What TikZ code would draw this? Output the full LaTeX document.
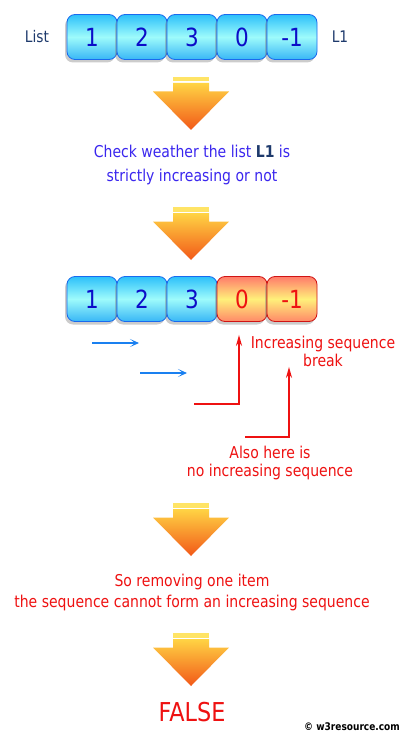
\documentclass[tikz,border=0pt]{standalone}
\usepackage{fontspec}
\setmainfont{DejaVu Sans}[FakeStretch=0.86]
\usetikzlibrary{arrows.meta,positioning,shadows}
\definecolor{celltop}{HTML}{2CC0FA}
\definecolor{cellmid}{HTML}{9EFBFB}
\definecolor{cellbot}{HTML}{38B6F6}
\definecolor{celledge}{HTML}{1A6AEE}
\definecolor{celltext}{HTML}{0C0CC8}
\definecolor{badtop}{HTML}{FF7B6B}
\definecolor{badmid}{HTML}{FFF07A}
\definecolor{badbot}{HTML}{FF8868}
\definecolor{badedge}{HTML}{D01414}
\definecolor{notered}{HTML}{EE1111}
\definecolor{navy}{HTML}{1E3A6C}
\definecolor{askblue}{HTML}{3A26EE}
\definecolor{walkblue}{HTML}{1A80F0}
\definecolor{arrtop}{HTML}{FFD444}
\definecolor{arrbot}{HTML}{F25818}
\definecolor{barfill}{HTML}{FFE466}
\tikzset{
	cell/.style={draw=celledge,line width=.8pt,rounded corners=8pt,minimum width=50pt,minimum height=45pt,
		top color=celltop,bottom color=cellbot,middle color=cellmid,text=celltext,
		font=\fontsize{25}{25}\selectfont,drop shadow={shadow xshift=-2pt,shadow yshift=-3pt,opacity=.4}},
	badcell/.style={cell,draw=badedge,top color=badtop,bottom color=badbot,middle color=badmid,text=notered},
	tag/.style={text=navy,font=\fontsize{16}{16}\selectfont},
	note/.style={align=center,text=notered,font=\fontsize{16.3}{18}\selectfont},
	walk/.style={draw=walkblue,line width=2pt,-{Stealth[length=9pt,width=8pt,inset=5pt]}},
	miss/.style={draw=notered,line width=2pt,-{Stealth[length=11pt,width=6pt]}},
	bigdown/.pic={
		\fill[barfill] (-18,0) rectangle (18,4.5);
		\shade[top color=arrtop,bottom color=arrbot] (-18,6) -- (18,6) -- (18,14.5) -- (38,14.5) -- (0,53) -- (-38,14.5) -- (-18,14.5) -- cycle;
	}
}
\begin{document}
\begin{tikzpicture}[x=1pt,y=-1pt]
	\useasboundingbox (0,0) rectangle (409,741);
	% the list
	\node[tag] (lbl) at (37,37) {List};
	\foreach \v [count=\i] in {1,2,3,0,-1}
		\node[cell] (a\i) at (42+50*\i,37) {\v};
	\node[tag] (nm) at (340,37) {L1};
	
	\pic at (191,77) {bigdown};
	\node[align=center,text=askblue,font=\fontsize{16.3}{24}\selectfont] (ask) at (192,165)
		{Check weather the list {\bfseries\color{navy}L1} is\\strictly increasing or not};
	\pic at (191,207) {bigdown};
	
	% checked list
	\foreach \v/\s [count=\i] in {1/cell,2/cell,3/cell,0/badcell,-1/badcell}
		\node[\s] (b\i) at (42+50*\i,299) {\v};
	
	\draw[walk] ([yshift=-44pt]b1.center) -- ([xshift=-3pt,yshift=-44pt]b2.center);
	\draw[walk] ([xshift=-2pt,yshift=-74pt]b2.center) -- ([xshift=-5pt,yshift=-74pt]b3.center);
	
	\node[note] (brk) at (323,351) {Increasing sequence\\break};
	\coordinate (s1) at (194,404);
	\draw[miss] (s1) -| ([xshift=-3pt,yshift=-13pt]b4.south);
	\coordinate (s2) at (245,437);
	\draw[miss] (s2) -| ([xshift=-3pt,yshift=-45pt]b5.south);
	\node[note] (also) at (270,463) {Also here is\\no increasing sequence};
	
	\pic at (191,503) {bigdown};
	\node[note,font=\fontsize{16.3}{21}\selectfont] (sum) at (192,592)
		{So removing one item\\the sequence cannot form an increasing sequence};
	\pic at (191,633) {bigdown};
	\node[text=notered,font=\fontsize{26}{26}\selectfont] (res) at (192,712) {FALSE};
	\node[font=\fontsize{10.5}{10.5}\selectfont\bfseries] (copy) at (352,727) {\textcopyright\ w3resource.com};
\end{tikzpicture}
\end{document}
